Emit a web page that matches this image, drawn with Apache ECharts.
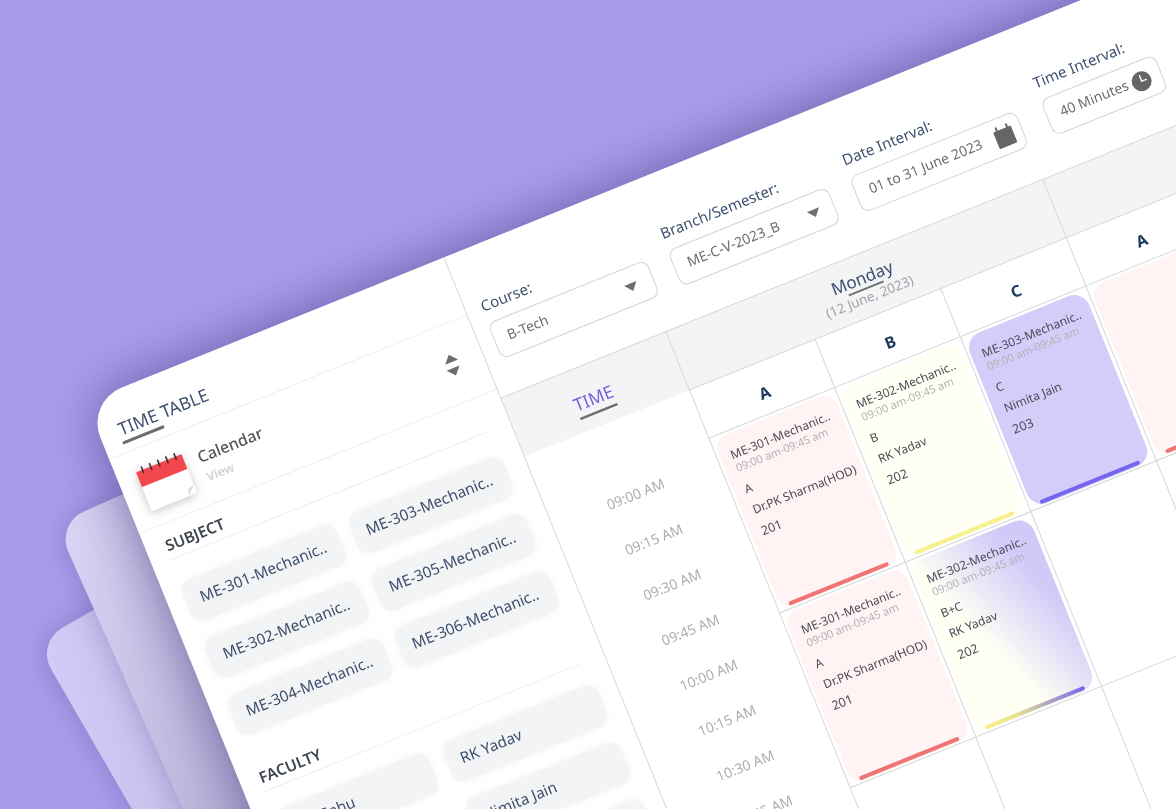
<!DOCTYPE html>
<html>
<head>
<meta charset="utf-8">
<title>Time Table</title>
<script src="https://cdn.jsdelivr.net/npm/echarts@6/dist/echarts.min.js"></script>
<style>
  html, body { margin: 0; padding: 0; background: #a89dea; }
  #main { width: 1176px; height: 809px; filter: blur(0.35px); }
</style>
</head>
<body>
<div id="main"></div>
<script>
// timetable data
const timeLabels = ['09:00 AM', '09:15 AM', '09:30 AM', '09:45 AM', '10:00 AM', '10:15 AM', '10:30 AM', '10:45 AM', '11:00 AM'];
const sectionNames = ['A', 'B', 'C', 'A'];
const subjectChips = ['ME-301-Mechanic..', 'ME-303-Mechanic..', 'ME-302-Mechanic..', 'ME-305-Mechanic..', 'ME-304-Mechanic..', 'ME-306-Mechanic..'];
const facultyChips = ['Rita Sahu', 'RK Yadav', '', 'Nimita Jain', '', ''];

const cardColumns = [0, 1, 2, 0, 1, 3];
const cardRows = [0, 0, 0, 1, 1, 0];
const cardSubjects = ['ME-301-Mechanic..', 'ME-302-Mechanic..', 'ME-303-Mechanic..', 'ME-301-Mechanic..', 'ME-302-Mechanic..', ''];
const cardTimes = ['09:00 am-09:45 am', '09:00 am-09:45 am', '09:00 am-09:45 am', '09:00 am-09:45 am', '09:00 am-09:45 am', ''];
const cardSections = ['A', 'B', 'C', 'A', 'B+C', 'A'];
const cardFaculty = ['Dr.PK Sharma(HOD)', 'RK Yadav', 'Nimita Jain', 'Dr.PK Sharma(HOD)', 'RK Yadav', ''];
const cardRooms = ['201', '202', '203', '201', '202', ''];

const filterLabels = ['Course:', 'Branch/Semester:', 'Date Interval:', 'Time Interval:'];
const filterValues = ['B-Tech', 'ME-C-V-2023_B', '01 to 31 June 2023', '40 Minutes'];

// the whole page is tilted
const ORIGIN = [86, 402];
const TILT = 22 * Math.PI / 180;
const FONT = '"Noto Sans", "Open Sans", sans-serif';
const LINE = '#d6d7da';
const GREY_BAND = '#f3f4f6';

const colCount = 6;
const rowCount = 4;
const colWidth = 135.5;
const rowHeight = 188.5;

function text(x, y, str, size, fill, weight, align) {
  return {
    type: 'text',
    x: x,
    y: y,
    style: {
      text: str,
      fill: fill,
      font: (weight || 400) + ' ' + size + 'px ' + FONT,
      align: align || 'left',
      verticalAlign: 'middle'
    }
  };
}

function rect(x, y, w, h, r, fill, extra) {
  return {
    type: 'rect',
    shape: { x: x, y: y, width: w, height: h, r: r },
    style: Object.assign({ fill: fill }, extra || {})
  };
}

function line(x1, y1, x2, y2, color, width) {
  return {
    type: 'line',
    shape: { x1: x1, y1: y1, x2: x2, y2: y2 },
    style: { stroke: color, lineWidth: width || 1, lineCap: 'round' }
  };
}

function triangle(cx, cy, w, h, up) {
  const tip = up ? cy - h / 2 : cy + h / 2;
  const base = up ? cy + h / 2 : cy - h / 2;
  return {
    type: 'polygon',
    shape: { points: [[cx - w / 2, base], [cx + w / 2, base], [cx, tip]] },
    style: { fill: '#6c6e73' }
  };
}

function tilted(children) {
  return { type: 'group', x: ORIGIN[0], y: ORIGIN[1], rotation: TILT, children: children };
}

function sidebar() {
  const out = [];
  out.push(text(20, 39.5, 'TIME TABLE', 17.5, '#3d4f6e'));
  out.push(line(20, 52, 62, 52, '#6e6e6e', 3));
  out.push(line(0, 62, 386, 62, '#eeeeee'));
  out.push(line(0, 142, 386, 142, '#eeeeee'));
  out.push(triangle(354, 96, 14, 8, true));
  out.push(triangle(353, 110, 14, 8, false));

  // calendar icon
  out.push(rect(20, 84, 49, 42, 1, '#ffffff', { shadowBlur: 8, shadowColor: 'rgba(0,0,0,0.22)', shadowOffsetY: 2 }));
  out.push(rect(20, 84, 49, 16, 1, '#f2474f'));
  for (let i = 0; i < 5; i++) {
    out.push(line(27 + i * 8.8, 81, 27 + i * 8.8, 87, '#333333', 1.6));
  }
  out.push({ type: 'polygon', shape: { points: [[69, 117], [60, 126], [62, 119]] }, style: { fill: '#dedede' } });
  out.push(text(83, 95, 'Calendar', 16, '#555555', 500));
  out.push(text(84, 116, 'View', 12.5, '#d2d2d2', 600));

  // subject and faculty chips
  out.push(text(20, 165, 'SUBJECT', 15.5, '#3f4650', 600));
  out.push(line(19, 178, 361, 178, '#eeeeee'));
  subjectChips.forEach(function (name, i) {
    const x = i % 2 === 0 ? 18 : 198;
    const y = 203 + Math.floor(i / 2) * 61.5;
    out.push(rect(x, y, 166, 44, 12, GREY_BAND, { shadowBlur: 5, shadowColor: GREY_BAND }));
    out.push(text(x + (i % 2 === 0 ? 15 : 14), y + 22, name, 15.3, '#3d4f6e'));
  });
  out.push(text(20, 415, 'FACULTY', 15.5, '#3f4650', 600));
  out.push(line(19, 428, 361, 428, '#eeeeee'));
  facultyChips.forEach(function (name, i) {
    const x = i % 2 === 0 ? 18 : 200;
    const y = 450 + Math.floor(i / 2) * 61.5;
    out.push(rect(x, y, 166, 44, 12, GREY_BAND, { shadowBlur: 5, shadowColor: GREY_BAND }));
    out.push(text(x + 14, y + 22, name, 15.3, '#3d4f6e'));
  });
  return out;
}

function filters() {
  const boxes = [[402, 170], [596, 171], [792, 178], [998, 122]];
  const out = [];
  boxes.forEach(function (b, i) {
    out.push(text(b[0], 61, filterLabels[i], 15, '#3d5270'));
    out.push(rect(b[0], 78, b[1], 38, 8, '#ffffff', { stroke: '#d2d4d8', lineWidth: 1 }));
    out.push(text(b[0] + 14, 97, filterValues[i], 14, '#6a6d72'));
  });
  out.push(triangle(549, 98, 13, 8, false));
  out.push(triangle(746, 98, 13, 8, false));
  // date icon
  out.push(rect(942, 90, 19, 18, 1, '#666666'));
  out.push(line(946, 87, 946, 91, '#666666', 2));
  out.push(line(957, 87, 957, 91, '#666666', 2));
  // clock icon
  out.push({ type: 'circle', shape: { cx: 1099, cy: 98, r: 10 }, style: { fill: '#666666' } });
  out.push(line(1099, 92, 1099, 98, '#ffffff', 1.4));
  out.push(line(1099, 98, 1104, 98, '#ffffff', 1.4));
  return out;
}

function tableHead() {
  const out = [];
  out.push(rect(386, 152, 1200, 63, 0, GREY_BAND));
  out.push(line(386, 0, 386, 1400, LINE));
  out.push(line(386, 152, 1586, 152, LINE));
  out.push(line(564, 215, 1586, 215, LINE));
  out.push(line(564, 152, 564, 215, LINE));
  out.push(line(970.5, 152, 970.5, 215, LINE));
  out.push(text(472, 188, 'TIME', 17.5, '#7a5be0', 400, 'center'));
  out.push(line(453, 201, 491, 201, '#6e6e6e', 2.5));
  out.push(text(766, 177, 'Monday', 17, '#3d4f6e', 400, 'center'));
  out.push(line(748, 187, 784, 187, '#6e6e6e', 2));
  out.push(text(766, 197, '(12 June, 2023)', 13.5, '#a0a2a6', 400, 'center'));
  return out;
}

const page = [
  // two sheets behind
  {
    type: 'group', x: 36, y: 643, rotation: 30 * Math.PI / 180,
    children: [rect(0, 0, 320, 700, [30, 0, 0, 0], {
      type: 'linear', x: 0, y: 0, x2: 1, y2: 0.15,
      colorStops: [{ offset: 0, color: '#d4ccf7' }, { offset: 0.7, color: '#b7b0dc' }, { offset: 1, color: '#a39cbc' }]
    }, { shadowBlur: 30, shadowColor: 'rgba(60,45,130,0.3)' })]
  },
  {
    type: 'group', x: 56, y: 524, rotation: 24 * Math.PI / 180,
    children: [rect(0, 0, 320, 700, [30, 0, 0, 0], {
      type: 'linear', x: 0, y: 0, x2: 1, y2: 0.3,
      colorStops: [{ offset: 0, color: '#dbd5f6' }, { offset: 0.6, color: '#b5aed6' }, { offset: 1, color: '#9c97ad' }]
    }, { shadowBlur: 30, shadowColor: 'rgba(60,45,130,0.3)' })]
  },
  // main sheet
  tilted([rect(0, 0, 1700, 1400, [38, 0, 0, 0], '#ffffff', {
    shadowBlur: 55, shadowColor: 'rgba(50,35,110,0.55)'
  })]),
  tilted(sidebar()),
  tilted(filters()),
  tilted(tableHead())
];

// the timetable body goes through two hidden cartesian grids laid out in tilted coordinates
function tiltItem(children) {
  return { type: 'group', x: ORIGIN[0], y: ORIGIN[1], rotation: TILT, children: children };
}

function renderLines(params, api) {
  const i = api.value(0);
  const top = api.coord([0, 0]);
  const end = api.coord([colCount, rowCount]);
  const children = [];
  if (i <= colCount) {
    const p = api.coord([i, 0]);
    children.push(line(p[0], top[1] - 52, p[0], end[1], LINE));
  }
  if (i <= rowCount) {
    const q = api.coord([0, i]);
    children.push(line(top[0], q[1], end[0], q[1], LINE));
  }
  return tiltItem(children);
}

function renderSection(params, api) {
  const p = api.coord([api.value(0) + 0.5, 0]);
  return tiltItem([text(p[0] + 1, p[1] - 20, sectionNames[params.dataIndex], 16, '#1f3a5f', 700, 'center')]);
}

function renderTime(params, api) {
  const p = api.coord([0.5, api.value(0)]);
  return tiltItem([text(p[0], p[1], timeLabels[params.dataIndex], 14, '#adadad', 400, 'center')]);
}

function cardStyle(section) {
  if (section === 'B') return { fill: '#fffff4', bar: '#f6f18e', r: 14 };
  if (section === 'C') return { fill: '#d5ccf9', bar: '#7466ee', r: 16 };
  if (section === 'B+C') {
    return {
      r: 16,
      fill: {
        type: 'linear', x: 0.35, y: 0.6, x2: 0.95, y2: 0.43,
        colorStops: [{ offset: 0, color: '#fffff4' }, { offset: 1, color: '#d2c9f9' }]
      },
      bar: {
        type: 'linear', x: 0, y: 0, x2: 1, y2: 0,
        colorStops: [{ offset: 0, color: '#f6f18e' }, { offset: 0.3, color: '#e9e48e' }, { offset: 1, color: '#7466ee' }]
      }
    };
  }
  return { fill: '#fff3f4', bar: '#f07474', r: 14 };
}

function renderCard(params, api) {
  const i = params.dataIndex;
  const p0 = api.coord([api.value(0), api.value(1)]);
  const p1 = api.coord([api.value(0) + 1, api.value(1) + 1]);
  const x = p0[0];
  const y = p0[1];
  const w = p1[0] - p0[0];
  const h = p1[1] - p0[1];
  const look = cardStyle(cardSections[i]);
  const children = [
    rect(x + 3, y + 3, w - 7, h - 5, look.r, look.fill),
    line(x + 14, y + h - 5, x + w - 18, y + h - 5, look.bar, 4)
  ];
  if (cardSubjects[i]) {
    children.push(text(x + 14, y + 25, cardSubjects[i], 12, '#4c4c58'));
    children.push(text(x + 14, y + 39, cardTimes[i], 11, '#b2b2b6'));
    children.push(text(x + 14, y + 62, cardSections[i], 12, '#4c4c58'));
    children.push(text(x + 14, y + 84, cardFaculty[i], 12, '#4c4c58'));
    children.push(text(x + 14, y + 107, cardRooms[i], 12.5, '#4c4c58'));
  }
  return tiltItem(children);
}

const chart = echarts.init(document.getElementById('main'), null, { renderer: 'canvas' });

const option = {
  animation: false,
  backgroundColor: '#a89dea',
  graphic: { elements: page },
  grid: [
    { left: 564, top: 267, width: colWidth * colCount, height: rowHeight * rowCount, outerBoundsMode: 'none' },
    { left: 386, top: 268, width: 178, height: 48.8 * timeLabels.length, outerBoundsMode: 'none' }
  ],
  xAxis: [
    { type: 'value', gridIndex: 0, min: 0, max: colCount, show: false },
    { type: 'value', gridIndex: 1, min: 0, max: 1, show: false }
  ],
  yAxis: [
    { type: 'value', gridIndex: 0, min: 0, max: rowCount, inverse: true, show: false },
    { type: 'category', gridIndex: 1, data: timeLabels, inverse: true, show: false }
  ],
  series: [
    {
      type: 'custom', name: 'lines', xAxisIndex: 0, yAxisIndex: 0, silent: true, z: 2,
      renderItem: renderLines,
      data: [0, 1, 2, 3, 4, 5, 6]
    },
    {
      type: 'custom', name: 'sections', xAxisIndex: 0, yAxisIndex: 0, silent: true, z: 3,
      renderItem: renderSection,
      data: sectionNames.map(function (s, i) { return [i, 0]; })
    },
    {
      type: 'custom', name: 'times', xAxisIndex: 1, yAxisIndex: 1, silent: true, z: 3,
      renderItem: renderTime,
      encode: { x: 1, y: 0 },
      data: timeLabels.map(function (t, i) { return [i, 0.5]; })
    },
    {
      type: 'custom', name: 'cards', xAxisIndex: 0, yAxisIndex: 0, silent: true, z: 4,
      renderItem: renderCard,
      data: cardColumns.map(function (c, i) { return [c, cardRows[i]]; })
    }
  ]
};

chart.setOption(option);
</script>
</body>
</html>
